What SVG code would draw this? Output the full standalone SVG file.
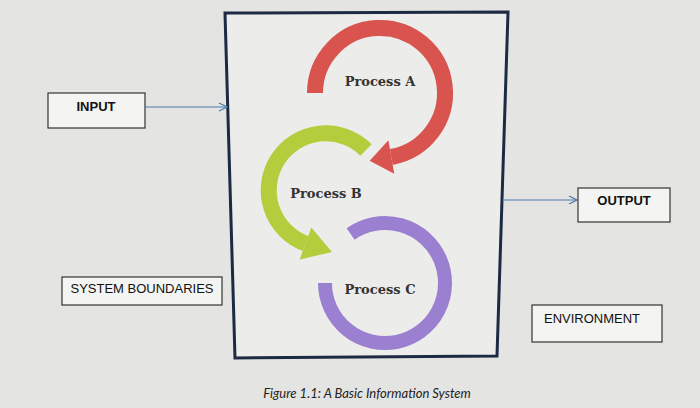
<svg xmlns="http://www.w3.org/2000/svg" width="700" height="408" viewBox="0 0 700 408">
<defs>
<style>
.box{fill:#f4f4f2;stroke:#333;stroke-width:1.2}
.lbl{font-family:"Liberation Sans",Arial,sans-serif;font-size:13px;fill:#111;text-anchor:middle;dominant-baseline:central}
.proc{font-family:"DejaVu Serif",serif;font-size:13px;font-weight:bold;fill:#333;text-anchor:middle;dominant-baseline:central}
.conn{stroke:#4a7bb0;stroke-width:1.2;fill:none}
</style>
<marker id="ah" viewBox="0 0 10 10" refX="9" refY="5" markerWidth="10" markerHeight="10" markerUnits="userSpaceOnUse" orient="auto">
<path d="M1,1 L9,5 L1,9" fill="none" stroke="#4a7bb0" stroke-width="1.2"/>
</marker>
</defs>
<rect width="700" height="408" fill="#e4e4e2"/>
<g id="system">
<polygon points="225,13 508,12 497,356 235,358" fill="#ececea" stroke="#1c2a44" stroke-width="3"/>
</g>
<g id="processA">
<path d="M315,93 A65,65 0 1 1 391.3,157" fill="none" stroke="#d9534f" stroke-width="16"/>
<polygon points="394.2,173.7 388.4,140.3 369.7,160.8" fill="#d9534f"/>
<text class="proc" x="380" y="81">Process A</text>
</g>
<g id="processB">
<path d="M366,150 A57,57 0 1 0 305.5,243.6" fill="none" stroke="#b3cd3c" stroke-width="16"/>
<polygon points="299.7,259.6 311.3,227.6 332,252" fill="#b3cd3c"/>
<text class="proc" x="326" y="193">Process B</text>
</g>
<g id="processC">
<path d="M350.6,233.9 A60,60 0 1 1 325,283" fill="none" stroke="#9b80d2" stroke-width="14"/>
<text class="proc" x="380" y="289">Process C</text>
</g>
<g id="input"><rect class="box" x="48" y="93" width="97" height="35"/><text class="lbl" x="96" y="106" font-weight="bold">INPUT</text></g>
<g id="boundaries"><rect class="box" x="62" y="277" width="160" height="28"/><text class="lbl" x="142" y="288">SYSTEM BOUNDARIES</text></g>
<g id="output"><rect class="box" x="578" y="188" width="92" height="34"/><text class="lbl" x="624" y="200" font-weight="bold">OUTPUT</text></g>
<g id="environment"><rect class="box" x="532" y="305" width="130" height="37"/><text class="lbl" x="592" y="318">ENVIRONMENT</text></g>
<g id="connectors">
<line class="conn" x1="145" y1="107" x2="227" y2="107" marker-end="url(#ah)"/>
<line class="conn" x1="502" y1="200" x2="577" y2="200" marker-end="url(#ah)"/>
</g>
<text x="367" y="398" font-family="Lato,'Liberation Sans',sans-serif" font-style="italic" font-size="13" fill="#222" text-anchor="middle">Figure 1.1: A Basic Information System</text>
</svg>
